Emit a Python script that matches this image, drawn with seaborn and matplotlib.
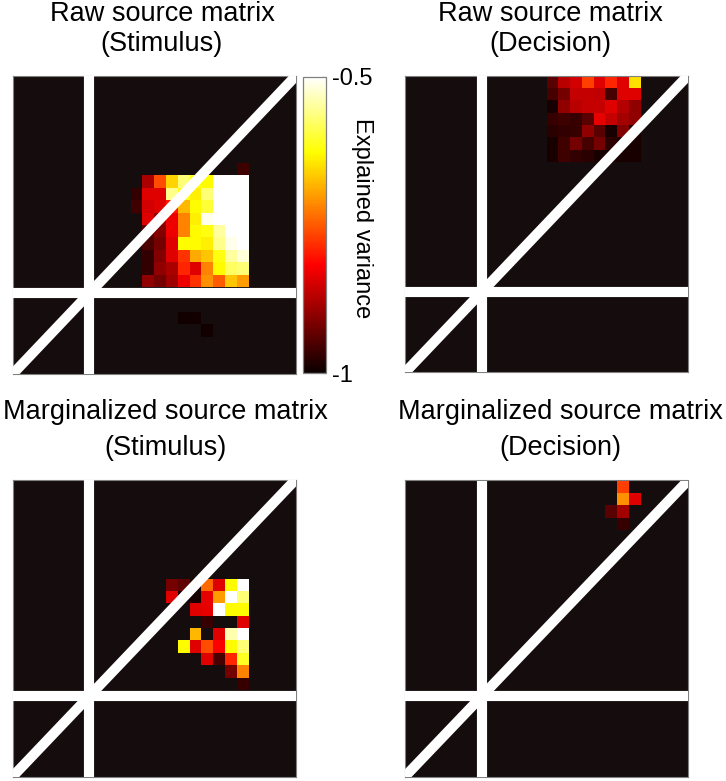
"""
Recreate the four source-matrix heatmaps.

Raw and marginalized source matrices for the stimulus and
decision components, drawn on a shared hot colour scale.
"""

import matplotlib.pyplot as plt
import numpy as np
import seaborn as sns
from matplotlib.colors import ListedColormap

MATRIX_SIZE: int = 24
BACKGROUND_VALUE: float = -1.0
VALUE_MIN: float = -1.0
VALUE_MAX: float = -0.5

# cell index (0-based) of the separating white lines
SEPARATOR_INDEX: int = 6

TICK_POSITIONS: list[float] = [4.5, 9.5, 14.5, 19.5]
COLORBAR_TICKS: list[float] = [-1.0, -0.95, -0.9, -0.85, -0.8, -0.75,
                               -0.7, -0.65, -0.6, -0.55, -0.5]
COLORBAR_TICK_LABELS: list[str] = ["-1", "", "", "", "", "", "", "", "", "", "-0.5"]
COLORBAR_LABEL: str = "Explained variance"

# raw source matrix (stimulus): rows 8-16 from top, columns 11-19
RAW_STIMULUS_ORIGIN: tuple[int, int] = (8, 11)
RAW_STIMULUS_BLOCK: list[list[float]] = [
    [-0.88, -0.76, -0.66, -0.57, -0.62, -0.63, -0.50, -0.50, -0.50],
    [-0.84, -0.84, -0.56, -0.62, -0.64, -0.57, -0.50, -0.50, -0.50],
    [-0.85, -0.84, -0.80, -0.68, -0.63, -0.60, -0.50, -0.50, -0.50],
    [-0.84, -0.90, -0.83, -0.72, -0.64, -0.51, -0.50, -0.50, -0.50],
    [-0.94, -0.91, -0.83, -0.72, -0.63, -0.62, -0.55, -0.50, -0.50],
    [-0.95, -0.92, -0.84, -0.63, -0.63, -0.64, -0.56, -0.51, -0.50],
    [-0.97, -0.91, -0.84, -0.78, -0.69, -0.67, -0.62, -0.55, -0.52],
    [-0.97, -0.90, -0.88, -0.79, -0.84, -0.72, -0.63, -0.58, -0.57],
    [-0.90, -0.92, -0.89, -0.83, -0.78, -0.71, -0.75, -0.67, -0.70],
]
RAW_STIMULUS_EXTRA: list[tuple[int, int, float]] = [
    (7, 19, -0.96),
    (9, 10, -0.97),
    (10, 10, -0.96),
    (19, 14, -0.993),
    (19, 15, -0.993),
    (20, 16, -0.993),
]

# raw source matrix (decision): rows 0-6, columns 12-19
RAW_DECISION_ORIGIN: tuple[int, int] = (0, 12)
RAW_DECISION_BLOCK: list[list[float]] = [
    [-0.94, -0.87, -0.85, -0.77, -0.84, -0.79, -0.84, -0.65],
    [-0.955, -0.92, -0.86, -0.86, -0.865, -0.955, -0.84, -0.84],
    [-0.99, -0.90, -0.87, -0.86, -0.86, -0.84, -0.875, -0.90],
    [-0.965, -0.96, -0.965, -0.94, -0.835, -0.86, -0.885, -0.90],
    [-0.975, -0.97, -0.965, -0.90, -0.94, -0.99, -0.91, -0.99],
    [-0.99, -0.96, -0.92, -0.955, -0.92, -0.975, -0.99, -0.99],
    [-0.99, -0.96, -0.97, -0.975, -0.99, -0.99, -0.99, -0.99],
]

# marginalized source matrix (stimulus): rows 8-16, columns 13-19
MARG_STIMULUS_ORIGIN: tuple[int, int] = (8, 13)
MARG_STIMULUS_BLOCK: list[list[float]] = [
    [-0.92, -0.935, -0.99, -0.74, -0.84, -0.63, -0.50],
    [-0.84, -0.99, -0.99, -0.835, -0.70, -0.50, -0.57],
    [-1.00, -1.00, -0.84, -0.835, -0.50, -0.63, -0.63],
    [-1.00, -1.00, -1.00, -0.965, -1.00, -1.00, -0.84],
    [-1.00, -1.00, -0.68, -1.00, -0.84, -0.54, -0.50],
    [-1.00, -0.63, -0.84, -0.76, -0.82, -0.63, -0.57],
    [-1.00, -1.00, -1.00, -0.84, -0.955, -0.79, -0.61],
    [-1.00, -1.00, -1.00, -1.00, -1.00, -0.92, -0.72],
    [-1.00, -1.00, -1.00, -1.00, -1.00, -1.00, -0.965],
]

# marginalized source matrix (decision): rows 0-3, columns 17-19
MARG_DECISION_ORIGIN: tuple[int, int] = (0, 17)
MARG_DECISION_BLOCK: list[list[float]] = [
    [-1.00, -0.77, -1.00],
    [-1.00, -0.71, -0.84],
    [-0.94, -0.885, -1.00],
    [-1.00, -0.965, -1.00],
]

PANEL_TITLES: list[tuple[str, str]] = [
    ("Raw source matrix", "(Stimulus)"),
    ("Raw source matrix", "(Decision)"),
    ("Marginalized source matrix", "(Stimulus)"),
    ("Marginalized source matrix", "(Decision)"),
]

# layout in pixels of the 726 x 781 output
FIG_W: int = 726
FIG_H: int = 781
PANEL_BOXES: list[tuple[float, float, float, float]] = [
    (12.7, 76.0, 283.0, 298.0),
    (405.0, 75.5, 283.0, 297.0),
    (12.7, 479.5, 283.0, 297.0),
    (405.0, 480.5, 283.0, 296.0),
]
COLORBAR_BOX: tuple[float, float, float, float] = (303.3, 76.5, 23.0, 296.5)
TITLE_X: list[float] = [162.0, 550.0, 165.0, 560.0]
TITLE_BASELINES: list[tuple[float, float]] = [
    (21.0, 51.0),
    (21.0, 51.0),
    (419.0, 455.0),
    (419.0, 455.0),
]

TITLE_SIZE: float = 19.5
LABEL_SIZE: float = 17.0
WHITE_LINE_WIDTH: float = 7.3
FRAME_COLOR: str = "#808080"
BACKGROUND_COLOR: str = "#150d0d"


def to_rect(box):
    left, top, width, height = box
    return [left / FIG_W, 1 - (top + height) / FIG_H, width / FIG_W, height / FIG_H]


def build_matrix(origin, block, extra=()):
    matrix = np.full((MATRIX_SIZE, MATRIX_SIZE), BACKGROUND_VALUE)
    row0, col0 = origin
    values = np.array(block, dtype=float)
    matrix[row0:row0 + values.shape[0], col0:col0 + values.shape[1]] = values
    for row, col, value in extra:
        matrix[row, col] = value
    return matrix


def make_colormap():
    colors = plt.cm.hot(np.linspace(0, 1, 256))
    colors[0] = plt.matplotlib.colors.to_rgba(BACKGROUND_COLOR)
    return ListedColormap(colors)


def draw_panel(fig, box, matrix, cmap, cbar_box=None):
    ax = fig.add_axes(to_rect(box))
    cbar_ax = fig.add_axes(to_rect(cbar_box)) if cbar_box else None

    sns.heatmap(
        matrix,
        ax=ax,
        cmap=cmap,
        vmin=VALUE_MIN,
        vmax=VALUE_MAX,
        cbar=cbar_ax is not None,
        cbar_ax=cbar_ax,
        xticklabels=False,
        yticklabels=False,
    )

    # white separators between epochs and the diagonal
    sep = SEPARATOR_INDEX + 0.5
    ax.axvline(sep, color="white", lw=WHITE_LINE_WIDTH, zorder=3)
    ax.axhline(MATRIX_SIZE - sep, color="white", lw=WHITE_LINE_WIDTH, zorder=3)
    ax.plot([0, MATRIX_SIZE], [MATRIX_SIZE, 0], color="white",
            lw=WHITE_LINE_WIDTH, solid_capstyle="butt", zorder=3)
    ax.set_xlim(0, MATRIX_SIZE)
    ax.set_ylim(MATRIX_SIZE, 0)

    ax.set_xticks(TICK_POSITIONS)
    ax.set_yticks(TICK_POSITIONS)
    ax.tick_params(which="both", direction="in", length=3, width=0.8,
                   color=FRAME_COLOR, top=True, right=True,
                   labelbottom=False, labelleft=False)
    for spine in ax.spines.values():
        spine.set_visible(True)
        spine.set_color(FRAME_COLOR)
        spine.set_linewidth(0.8)

    if cbar_ax is not None:
        cbar = ax.collections[0].colorbar
        cbar.set_ticks(COLORBAR_TICKS)
        cbar.set_ticklabels(COLORBAR_TICK_LABELS)
        cbar.outline.set_linewidth(0.9)
        cbar.outline.set_edgecolor(FRAME_COLOR)
        cbar_ax.tick_params(which="both", direction="in", length=3, width=0.8,
                            color="#404040", labelcolor="black",
                            right=True, left=False,
                            labelsize=LABEL_SIZE, pad=4)
    return ax


def create_source_matrices() -> None:
    """
    Draw the four source matrices and save them to out.png.
    """
    sns.set_style("white")
    plt.rcParams["font.family"] = ["Liberation Sans", "DejaVu Sans"]
    plt.rcParams["text.color"] = "black"

    matrices = [
        build_matrix(RAW_STIMULUS_ORIGIN, RAW_STIMULUS_BLOCK, RAW_STIMULUS_EXTRA),
        build_matrix(RAW_DECISION_ORIGIN, RAW_DECISION_BLOCK),
        build_matrix(MARG_STIMULUS_ORIGIN, MARG_STIMULUS_BLOCK),
        build_matrix(MARG_DECISION_ORIGIN, MARG_DECISION_BLOCK),
    ]

    cmap = make_colormap()
    fig = plt.figure(figsize=(FIG_W / 100, FIG_H / 100), dpi=100)

    for index, matrix in enumerate(matrices):
        draw_panel(fig, PANEL_BOXES[index], matrix, cmap,
                   COLORBAR_BOX if index == 0 else None)
        for line, baseline in zip(PANEL_TITLES[index], TITLE_BASELINES[index]):
            fig.text(TITLE_X[index] / FIG_W, 1 - baseline / FIG_H, line,
                     ha="center", va="baseline", fontsize=TITLE_SIZE,
                     color="black")

    fig.text(362 / FIG_W, 1 - 218 / FIG_H, COLORBAR_LABEL, rotation=270,
             ha="center", va="center", fontsize=LABEL_SIZE, color="black")

    fig.savefig("out.png", dpi=100)


if __name__ == "__main__":
    create_source_matrices()
